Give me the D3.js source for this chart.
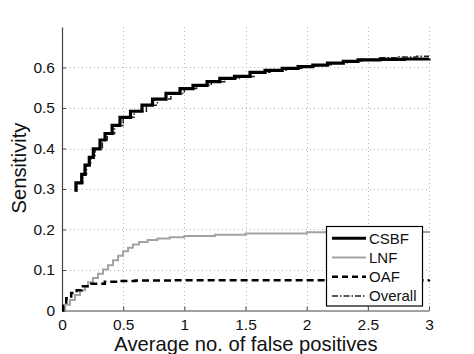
<!DOCTYPE html>
<html><head><meta charset="utf-8">
<script src="https://cdn.jsdelivr.net/npm/d3@7"></script>
<style>body{margin:0;background:#fff}svg{display:block;font-family:"Liberation Sans",Arial,sans-serif}</style>
</head><body><svg id="c" width="474" height="354"></svg>
<script>
const xTicks = [0, 0.5, 1, 1.5, 2, 2.5, 3];
const yTicks = [0, 0.1, 0.2, 0.3, 0.4, 0.5, 0.6];
const seriesNames = ["CSBF", "LNF", "OAF", "Overall"];
const csbfX = [0.114,0.114,0.161,0.188,0.223,0.256,0.311,0.352,0.41,0.474,0.56,0.654,0.74,0.85,0.965,1.071,1.186,1.29,1.41,1.537,1.66,1.8,1.93,2.05,2.17,2.3,2.42,2.6,2.8,3.0];
const csbfY = [0.293,0.315,0.336,0.359,0.378,0.399,0.421,0.437,0.457,0.477,0.492,0.507,0.522,0.536,0.548,0.556,0.565,0.573,0.578,0.588,0.593,0.598,0.602,0.606,0.611,0.615,0.619,0.620,0.621,0.622];
const lnfX = [0,0.025,0.065,0.106,0.147,0.188,0.213,0.253,0.294,0.335,0.376,0.417,0.458,0.499,0.54,0.58,0.63,0.7,0.78,0.88,1.0,1.25,1.5,2.0,2.5,3.0];
const lnfY = [0,0.014,0.026,0.038,0.05,0.059,0.07,0.08,0.091,0.101,0.112,0.124,0.135,0.146,0.155,0.163,0.169,0.174,0.178,0.181,0.184,0.187,0.19,0.193,0.194,0.195];
const oafX = [0,0.01,0.035,0.075,0.12,0.16,0.24,0.35,0.46,0.6,0.9,3.0];
const oafY = [0,0.012,0.03,0.043,0.05,0.06,0.066,0.071,0.073,0.074,0.075,0.076];
const allX = [0.12,0.12,0.17,0.2,0.235,0.27,0.33,0.37,0.43,0.5,0.59,0.69,0.78,0.89,1.0,1.1,1.22,1.33,1.45,1.57,1.7,1.84,1.96,2.08,2.2,2.33,2.45,2.6,2.75,2.9,3.0];
const allY = [0.293,0.315,0.336,0.359,0.378,0.399,0.421,0.437,0.457,0.477,0.492,0.507,0.522,0.536,0.548,0.556,0.565,0.573,0.578,0.588,0.593,0.598,0.603,0.607,0.612,0.616,0.620,0.624,0.626,0.628,0.628];

const svg = d3.select("#c");
const L = 62, R = 429, T = 27, B = 310.5;
const x = d3.scaleLinear().domain([0, 3]).range([L, R]);
const y = d3.scaleLinear().domain([0, 0.7]).range([B, T]);

// grid
const grid = svg.append("g").attr("stroke", "#b4b4b4").attr("stroke-width", 1).attr("stroke-dasharray", "1,3");
grid.selectAll(".gx").data(xTicks.filter(d => d > 0)).join("line")
  .attr("x1", d => Math.round(x(d)) + 0.5).attr("x2", d => Math.round(x(d)) + 0.5).attr("y1", T).attr("y2", B);
grid.selectAll(".gy").data(yTicks.filter(d => d > 0)).join("line")
  .attr("y1", d => Math.round(y(d)) + 0.5).attr("y2", d => Math.round(y(d)) + 0.5).attr("x1", L).attr("x2", R);

// axes
const xAxis = d3.axisBottom(x).tickValues(xTicks).tickFormat(d3.format("")).tickSizeInner(-4).tickSizeOuter(0).tickPadding(8);
const yAxis = d3.axisLeft(y).tickValues(yTicks).tickFormat(d => d === 0 ? "0" : d3.format(".1f")(d)).tickSizeInner(-4).tickSizeOuter(0).tickPadding(7);
const gx = svg.append("g").attr("transform", `translate(0,${B})`).call(xAxis);
const gy = svg.append("g").attr("transform", `translate(${L},0)`).call(yAxis);
[gx, gy].forEach(g => {
  g.select(".domain").attr("stroke", "#444").attr("stroke-width", 1.2);
  g.selectAll(".tick line").attr("stroke", "#444");
  g.selectAll(".tick text").attr("font-size", 15.5).attr("fill", "#111").attr("font-family", "Liberation Sans, Arial, sans-serif");
});

const mk = (xs, ys) => xs.map((v, i) => [v, ys[i]]);
const step = d3.line().x(d => x(d[0])).y(d => y(d[1])).curve(d3.curveStepAfter);

svg.append("path").attr("d", step(mk(lnfX, lnfY))).attr("fill", "none").attr("stroke", "#a3a3a3").attr("stroke-width", 2);
svg.append("path").attr("d", step(mk(oafX, oafY))).attr("fill", "none").attr("stroke", "#000").attr("stroke-width", 2.5).attr("stroke-dasharray", "7,4");
svg.append("path").attr("d", step(mk(allX, allY))).attr("fill", "none").attr("stroke", "#222").attr("stroke-width", 1.5).attr("stroke-dasharray", "6,2,1.5,2");
svg.append("path").attr("d", step(mk(csbfX, csbfY))).attr("fill", "none").attr("stroke", "#000").attr("stroke-width", 3.2);

// legend
const lg = svg.append("g");
lg.append("rect").attr("x", 326.5).attr("y", 226.5).attr("width", 96).attr("height", 79.5).attr("fill", "#fff").attr("stroke", "#000").attr("stroke-width", 1.2);
const styles = [
  {stroke: "#000", w: 3, dash: null},
  {stroke: "#a3a3a3", w: 2, dash: null},
  {stroke: "#000", w: 2.5, dash: "6,4"},
  {stroke: "#222", w: 1.5, dash: "6,2,1.5,2"}
];
const ly = [238.3, 257.5, 276.8, 296];
seriesNames.forEach((n, i) => {
  lg.append("line").attr("x1", 332).attr("x2", 366).attr("y1", ly[i]).attr("y2", ly[i])
    .attr("stroke", styles[i].stroke).attr("stroke-width", styles[i].w).attr("stroke-dasharray", styles[i].dash);
  lg.append("text").attr("x", 369).attr("y", ly[i]).attr("dy", "0.36em").attr("font-size", 15).attr("fill", "#111").text(n);
});

// axis titles
svg.append("text").attr("x", 246).attr("y", 351).attr("text-anchor", "middle").attr("font-size", 20.2).attr("fill", "#111").text("Average no. of false positives");
svg.append("text").attr("transform", `translate(26,168) rotate(-90)`).attr("text-anchor", "middle").attr("font-size", 20.2).attr("fill", "#111").text("Sensitivity");
</script></body></html>
